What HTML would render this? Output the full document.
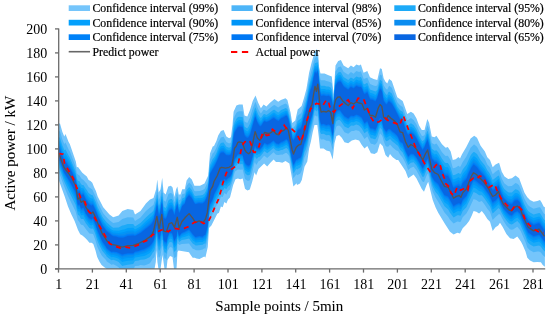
<!DOCTYPE html>
<html><head><meta charset="utf-8"><style>
html,body{margin:0;padding:0;background:#fff;}
svg{display:block;}
text{font-family:"Liberation Serif","Times New Roman",serif;fill:#000;stroke:#000;stroke-width:0.2px;}
.al{stroke-width:0.05px;}
.tk text{stroke-width:0px;}
</style></head><body>
<svg width="550" height="316" viewBox="0 0 550 316">
<defs><clipPath id="pa"><rect x="58" y="20" width="487.5" height="248.9"/></clipPath></defs>
<rect width="550" height="316" fill="#fff"/>
<g clip-path="url(#pa)">
<path fill="#75C5FB" d="M58.5,123.6 60,123.6 62.4,132 64.3,136.5 65.5,134 68.6,142 69.8,144 75.9,161.8 76.8,167.3 78,167 82.3,172.7 86.8,176.4 88.6,180 90.5,181 92.3,182.7 94.1,187.3 95.9,191 97.7,196.4 103.2,207.3 109.5,214.5 113.2,217.3 118.6,215.5 122.3,210.9 127.7,209.1 133.2,210 135,214.5 140.5,210.9 145.9,203.6 150,199.6 153.5,197.9 156.1,189.2 157.3,179.6 158.7,192.6 160.5,189.2 162.2,177.8 163.6,192.6 165.7,194.4 168.3,186.6 170.9,185.7 172.6,187.4 174.4,197 176.1,189.2 177.4,186.6 178.7,194.4 180.5,194.4 182.2,189.2 184.8,189.2 186.6,180.5 189.2,177 191.8,179.6 194.4,185.7 200,185.7 204.5,183.5 208.2,175.5 210,153.6 212.7,146.4 214,146 216.4,140.9 218.2,135.5 220.9,130.9 223.6,130 226.4,136.4 229.1,138.2 230.9,137.3 232.5,125 233.6,111.8 236.4,105.5 239.1,104.5 242.7,104.5 244.5,115.5 247.3,116.4 250,110 252.7,100.9 255.5,95.5 258.2,102.7 260.9,108.2 263.6,104.5 266.4,106.4 270,102.7 274.5,99.1 278.2,101.8 280.9,100 285.5,98.2 287.4,100 290.6,112.7 292.2,123 295.3,120.6 297.7,109.5 301.6,106 304,98 306.4,89.1 309.1,72.7 311.8,61.8 314.5,52.7 316.9,49.1 318.2,54.5 319.1,67.3 320.5,73.6 324.5,73.6 329.1,75.5 331.8,76.4 333.6,94.5 335.5,65.5 338.2,60.9 340.9,60 343.6,65.5 348.2,68.2 350.9,65.5 353.6,67.3 356.4,64.5 359.1,65.5 360.9,64.5 363.6,72.7 367.3,70.9 370,77.3 373.6,79.1 377.3,80 380,68.2 381.8,69.1 383.6,78.2 385.5,81.8 387.3,83.6 389.1,79.1 391.8,80.9 397.3,97.3 402.7,100.9 407.3,114 410.9,111.8 413.6,113.6 416.4,118.2 419.1,125.5 421.8,130 424.5,130 427.3,119.1 429.1,122.7 431.8,136.4 434.5,137.3 436.4,135.7 442,144.2 445.7,147.8 447.8,147.1 450.7,151.4 452.8,160 455.7,159.2 458.5,157 460,158.5 462,154.2 466.3,147.1 470.6,138.5 474.2,135.7 477,137.8 480.6,145.7 484.9,151.4 487.3,157.3 490,160 492.7,167.3 495.5,164.5 499.1,162.7 501.8,171.8 504.5,176.4 508.2,179.1 511.8,178.2 515.5,175.5 519.1,178.2 524.5,192.7 527.3,197.3 530,200 533.6,201.8 537.3,200.9 540,200 541.8,202.7 543.6,206.4 544.9,207.3 544.9,266.8 542.7,265 540.9,262.3 537.3,261.9 533.6,262.3 530,260.5 527.3,257.7 525.5,251.4 522.7,245 520.9,241.5 517.3,236.5 513.6,239 510,238.2 506.4,234 502.7,227 500,222.7 498.2,225.5 495.5,227.3 492.7,230.9 490,221.8 487.3,219.1 484.5,214.5 481.8,210.9 479.1,213.6 476.4,211.8 473.6,210.9 471.8,215.5 469.1,220.9 466.4,224.5 462.7,228.2 460,233.6 457.3,232.7 453.6,234.5 450,231.8 445,224 438.2,212.7 435.5,207.3 432.7,200 428.2,181.8 426.4,185.5 424,191.8 421.8,189.1 416.4,178.2 413.6,174.5 408.2,178.2 405.5,170.9 398.2,160 396.4,160 392.7,157.3 390,154.1 388.2,157.7 385.5,155 382.7,145.9 380,143.2 377.3,152.3 374.5,154.1 370.9,153.2 367.3,145.9 364.5,148.6 361.8,145 359.1,140.5 355.5,139.5 351.8,140.5 348.2,143.2 344.5,142.3 341.8,137.7 339.1,135 336.4,135.9 334.5,143.2 332.7,159.5 330,151.4 326.4,150.5 323.6,148.6 320,148.6 318.7,135.9 317.3,125 314.5,125 312.7,132.3 310.9,141.4 309.1,148.6 307.3,161.4 304.5,166.8 301.8,180 300,183.5 297,185 296.6,183.3 293.4,186.5 289.4,163.5 285.5,161.1 282.3,162.7 279.1,161.9 276,161.9 273.6,159.5 270.4,162.7 267.2,166.6 264.1,163.5 258.5,169 256.1,175.4 254.6,172.2 252.2,181.7 249.8,189.6 247.4,190.4 245,188.8 242.7,178.5 240.3,179.3 237.9,178.5 235.5,179.3 233.2,184.9 230,197.5 228,199.5 226.4,203.6 224.4,201.9 222.7,207.3 220.9,206.6 219,212.7 217.3,213.8 211.4,225.6 209,228 207.8,247 205.4,257.6 204.3,256.5 199.5,258.9 196.4,258.6 194.8,257.7 192.7,257.7 190,254.1 189,252.3 178.5,250.5 177.5,252 176.5,268.9 174,268.9 172.5,257 170,256 167.5,260 166.5,268.9 164.5,268.9 162.5,255 160.5,268.9 158.5,268.9 157.4,262 156.6,250 155.8,262 154.5,268.9 106.5,268.9 106,268.3 105,267.7 101.6,264.9 99.4,261.6 97.2,257.1 95.5,250.5 93.3,243.9 91.6,242.8 89.4,242.8 87.2,240 85,237.8 82.4,235.5 80.2,234.3 78,229.9 74.6,221 71.3,214.3 68,206.6 64.7,196.6 59.1,181 58.5,178Z"/>
<path fill="#4DB5F8" d="M58.5,130.8 60,131.5 62.4,139.4 64.3,143.9 65.5,142.4 68.6,149.4 69.8,151.3 75.5,166.3 75.9,167.8 76.8,173.2 77.9,174.5 79.5,175.6 81.1,178.3 82.3,179.3 83.4,179.9 85.8,182.8 86.8,183.8 88.6,187.1 92.3,189.4 95.9,197.1 97.7,202.3 102.4,211.7 103.2,213.2 106.8,217.5 109.5,220.2 113.2,223 118.6,222.1 122.3,218.9 127.7,217.2 133.2,217.6 135,221 140.5,217.5 145.9,211.1 150,207.4 152,206.1 153.5,204.8 156.1,195.4 157.3,187.6 158.7,199.5 159.1,199.4 160.5,195.7 161.8,187.3 162.2,185.9 163.6,200.3 165.7,201.8 168.3,194.3 169.1,193.6 170.9,192.9 171.8,193.4 172.6,194.3 174.4,202.5 176.1,194.9 177.3,192.1 178.7,199.7 179.1,200.1 180.5,199.4 182.2,194.3 184.8,193.6 186.6,185.9 189.2,182.5 191.8,185.2 194.4,191 195.5,191.2 200,191 202.7,190.1 204.5,189 207.3,183 208.2,180.3 210,159.8 212.7,153.3 214,152.3 216.4,147.4 218.2,142.3 220.9,137.5 223.6,136.8 226.4,142.1 229.1,143.4 230.9,142.5 232.5,131.6 233.6,119.5 234.5,116.6 236.4,112.7 237.7,111.7 239.2,111.2 242.4,111.3 242.7,111.5 244.5,121.4 247.3,122.9 250,117.5 252.7,108.5 255.1,102.5 255.5,102.1 258.2,109.1 259.8,112 260.9,113.6 263.6,109.8 264.6,110 266.4,111.1 273.2,105.6 274.5,104.9 278.2,107.6 281.1,105.5 285.5,103.6 286.6,104.2 287.4,105.1 290.6,117.8 292.2,127.7 293.5,127.6 295.3,125.6 297.7,115.8 300.9,113.2 301.6,112.2 306.4,95.1 309.1,79.5 314.5,59.1 315,57.9 316.4,57.1 316.9,56 317.8,58.3 318.2,60.3 319.1,72.4 320.5,79.7 321.1,80.3 324.5,80.2 326.4,80.9 328.5,81.4 330.6,82.3 331.8,83.6 332.9,93.7 333.6,97.9 335.5,71.6 338.2,67.2 340,66.7 340.9,66.6 343.6,71.8 348.2,74.7 350.9,72 353.6,73.7 356.4,71 359.1,72 360.9,71.3 363.6,78.8 364.5,78.8 367.3,77.4 370,83.9 373.6,85.5 375.5,86.1 377.3,85.4 380,74.5 381.8,75.6 383.6,85 385.5,88.3 386.4,89.2 387.3,89.6 389.1,85.8 391.8,87.8 397.3,102.3 400,105.2 402.7,106.9 405.5,115.3 407.3,120 408.2,119.9 410.9,118.1 413.6,119.9 416.4,124.3 419.1,131 421.8,135.7 422.7,136 424.5,135.2 427.3,125.5 427.6,125.8 429.1,129.6 431.8,143.1 434.5,144.6 436.4,143.6 438.2,146 442,152.2 444.5,155.1 445.7,156.1 447.8,155.8 450.7,160.3 452.8,168 453.6,168.2 455.7,167.5 458.5,165.7 460,167 460.9,165.8 462.7,162 466.4,156.6 470.6,147.8 473.6,144.8 474.2,144.5 477,146.7 480.6,153.6 484.9,159.1 487.3,164.4 490,167.6 492.7,174.3 495.5,171.8 498.5,169.8 499.1,170.1 501.8,178.8 504.5,183.4 508.2,186.3 511.8,186 515.5,183 517.3,183.8 519.1,185.2 524.5,199.1 527.3,204.1 528.2,205.2 530,206.8 533.6,208.8 539.1,207.2 540,207.3 541.8,209.9 543.6,213.3 544.9,214.3 544.9,257.1 542.7,255.1 540.9,252.5 539.1,251.6 537.3,251.6 533.6,252.3 530,250.3 528.2,248.6 527.3,247.4 525.5,242 520.9,231.6 520,230 517.3,226.8 514.5,228.5 513.6,229.3 511.8,229.8 510,229.3 506.4,225.5 503.6,221 500,214.3 498.5,214.3 498.2,214.8 495.5,217 492.7,219.9 490,212.1 487.3,208.8 484.5,204.4 481.8,201 479.1,202 476.4,200 473.6,198.9 469.1,208.7 466.4,213.6 462.7,217.3 460.9,221.3 460,222.3 459.1,221.8 457.3,221.6 453.6,223.6 450,219.7 448.2,216.7 444.5,212.4 438.2,201.7 435.5,197.5 432.7,191.6 431.8,188.6 428.2,173.6 427.6,173.7 426.4,176.1 424,182.1 422.7,181.8 421.8,180.6 416.4,170.2 413.6,166.7 410.9,167.8 408.2,169.9 405.5,163.1 402.7,157.7 400,154.6 398.2,151.3 397.3,150.7 396.4,150.4 392.7,147.5 390,144.6 388.2,146.8 386.4,146.6 385.5,145.7 383.6,140.7 382.7,137.2 381.8,135.2 380,133.4 377.3,141.9 375.5,144.3 374.5,144.7 372.7,144 370.9,143.7 370,142.3 367.3,136.4 364.5,138.9 361.8,134.6 359.1,131 356.4,130.2 355.5,130.2 353.6,130.9 351.8,131.1 350.9,131.5 348.2,133.7 344.5,132.3 341.8,128.1 340,126 339.1,125.4 337.7,125.8 336.4,126.5 334.5,133.4 332.7,150.2 330.6,142.8 330,141.4 328.5,140.8 326.4,140.8 323.6,139.2 321.1,139.4 320,137.9 318.7,124.9 317.8,117.6 317.3,115.4 316.4,116.5 315,115.3 314.5,116 312.1,127.5 309.1,139.4 307.3,150.8 305.6,155.3 304.5,157.6 301.8,170.2 300.9,172.3 300,173.7 297,175.3 296.6,174.1 293.4,178.2 289.4,156.5 288.2,154.5 286.6,153.1 285.5,152.9 282.3,154.7 281.1,154.6 278.7,155 276,154.7 273.6,152.3 273.2,152.5 267.2,158.1 264.6,155.9 264.1,155.8 259.8,160.7 258.5,161.3 257.4,163.2 256.1,164.9 255.1,162.6 254.6,162.5 252.2,172.4 250.3,178.8 249.8,180.2 248.7,180.7 247.4,180.8 245,178.9 242.7,169.5 242.4,169.4 240.3,169.8 239.2,169.4 237.7,169.4 236.1,170.8 235.5,171.1 234.5,173.1 231.8,184 230,189.6 228,191.3 226.4,194.4 224.4,193.1 222.7,197 220.9,196.6 219,201.9 217.3,203.9 214,210.5 212.7,213.8 211.4,216.4 210,218.2 209,221 207.8,237.9 205.4,248.8 204.3,248.3 202.7,249.4 199.5,250.3 196.4,250.3 195.5,250 194.8,249.5 192.7,248.7 190,245.1 189,243.5 181.8,244.1 179.1,245.1 178.5,244.1 177.5,243.6 176.5,256.5 174.5,258.1 174,257.8 172.5,248.2 171.8,247.6 170,247.1 169.1,248.2 167.5,251.3 166.4,260.4 165.7,258.6 164.5,258.6 163.6,253.9 162.5,245.5 161.8,247.2 160.5,255.6 159.1,257.7 158.5,256.7 157.4,249.9 156.6,240.8 155.8,250.3 154.5,256.9 153.6,258 152.5,258.7 152,260.1 150,262.9 149.5,263.4 145.9,265 144.1,265.4 140.5,265 138.6,265.8 135,266 134,268.3 133.5,268.9 120,268.9 119.5,268.6 118.6,267.3 116.8,266 113.2,264.3 111.4,264.8 109.5,263.3 106.8,261.6 106,260 102.4,256.3 101.6,255.3 99.4,251.3 97.2,246.5 95.5,240.4 93.3,234.4 92.9,234 89.4,233.4 85.8,228.9 83.4,225.4 82.4,225 81.1,224.8 80.2,223.6 79.5,222 77.9,220.2 75.5,211.3 68,195.9 63.9,185.7 59.1,172.5 58.5,170.2Z"/>
<path fill="#1CAAF8" d="M58.5,136.7 59.2,137.2 60,138.1 62.4,145.6 64.3,150.1 65.5,149.4 68.6,155.6 69.8,157.4 75.5,171 76.8,178.1 77.9,180.7 79.5,181.2 81.1,184.3 82.3,184.9 83.4,185.1 85.8,188.8 86.8,189.9 88.6,193.1 91.4,195 92.3,195.1 92.9,195.7 95.9,202.1 97.7,207.2 102.4,216.8 103.2,218.1 106.8,222.5 111.4,226.6 113.2,227.7 118.6,227.5 122.3,225.6 124,225.3 127.7,223.9 133.2,224 135,226.4 140.5,223.1 145.9,217.4 150,213.8 152,212.3 153.5,210.5 156.1,200.6 156.9,195.4 157.3,194.3 158.7,205.3 159.1,205.7 160.5,201.2 161.8,193 162.2,192.7 163.6,206.7 165.7,207.9 166.4,206.6 168.3,200.8 169.1,199.7 170.9,198.9 171.8,199.1 172.6,200 174.4,207 176.1,199.7 177.3,196.5 178.7,204.1 179.1,204.8 180.5,203.5 182.2,198.5 184.8,197.2 186.6,190.3 189.2,187.1 191.8,189.9 194.4,195.4 195.5,195.9 199.1,195.4 200,195.5 202.7,194.9 204.5,193.6 205.5,191.8 207.3,187.6 208.2,184.3 210,164.9 212.7,159.1 214,157.5 215,155.7 216.4,152.9 218.2,147.9 220,144.2 220.9,143 221.8,142.7 223.6,142.4 226.4,146.8 229.1,147.7 230.9,146.7 232.5,137.1 233.6,125.9 234.5,122.4 236.4,118.7 237.7,117.3 239.2,116.7 242.4,117 242.7,117.3 244.5,126.4 246.4,127.9 247.3,128.3 248.7,126.3 250.3,123.1 252.7,114.8 255.1,107.7 255.5,107.6 258.2,114.4 259.8,117.1 260.9,118.1 263.6,114.2 264.6,114 266.4,115 268,114 273.2,110.1 274.5,109.8 276.3,111.2 278.2,112.4 278.7,112.2 281.1,110.1 284.2,108.8 285.5,108 286.6,108.4 287.4,109.3 288.2,111.8 290.6,122.1 292.2,131.6 293.5,132.2 295.3,129.8 297.7,121.1 300.9,118.6 301.6,117.4 306.4,100.1 309.1,85.2 312.1,74.6 314.5,64.4 315,62.9 316.4,63.1 316.9,61.8 317.8,62.8 318.2,65.1 319.1,76.6 320.5,84.8 321.1,85.8 324.5,85.7 326.4,86.4 328.5,86.5 330.6,87.5 331.8,89.7 332.9,99 333.6,100.7 335.5,76.6 338.2,72.4 340,71.9 340.9,72.2 343.6,77.1 348.2,80.1 350.9,77.4 353.6,79 356.4,76.4 359.1,77.5 360.9,76.9 361.8,78.8 363.6,83.9 364.5,84.3 367.3,82.8 370,89.5 375.5,91.6 377.3,90 380,79.8 381.8,81.1 383.6,90.7 385.5,93.8 386.4,94.7 387.3,94.7 388.2,92.6 389.1,91.4 391.8,93.5 397.3,106.5 400,110.3 402.7,111.8 405.5,120.4 407.3,125 408.2,125.3 410.9,123.3 413.6,125.1 416.4,129.3 419.1,135.7 421.8,140.4 422.7,141 424.5,139.5 427.3,130.8 427.6,131 429.1,135.4 431.8,148.7 434.5,150.7 436.4,150.2 438.2,152.2 442,158.8 444.5,162.2 445.7,163.1 447.8,163 448.2,163.4 450.7,167.7 452.8,174.7 453.6,175.3 455.7,174.5 458.5,172.9 459.1,173.2 460,174.1 460.9,173.4 462.7,169.5 466.4,164.7 470.6,155.5 471.8,153.8 473.6,151.9 474.2,151.9 477,154.1 480.6,160.3 484.9,165.5 487.3,170.3 489.1,172.5 490,173.9 492.7,180.1 498.5,175.5 499.1,176.2 501.8,184.6 503.6,187.9 504.5,189.2 508.2,192.3 509.1,192.6 511.8,192.6 514.5,189.9 515.5,189.3 517.3,189.7 519.1,191.1 520,192.8 524.5,204.5 527.3,209.7 528.2,211 530,212.5 533.6,214.6 539.1,213 540,213.3 541.8,215.9 543.6,219.1 544.5,219.9 544.9,220.1 544.9,251.5 544.5,251.3 542.7,249.3 540.9,246.8 539.1,245.5 537.3,245.7 533.6,246.5 530,244.4 528.2,242.8 527.3,241.5 525.5,236.5 520,224.1 517.3,221.1 514.5,222.7 513.6,223.6 511.8,224.6 510,224.1 509.1,223.5 506.4,220.5 503.6,216.5 500.9,211.5 500,209.4 498.5,208.1 492.7,213.6 490,206.6 484.5,198.6 481.8,195.3 479.1,195.3 476.4,193.2 473.6,191.9 466.4,207.2 462.7,211 460.9,215.2 460,215.7 459.1,215.2 457.3,215.3 453.6,217.4 450,212.7 448.2,209.6 444.5,206.2 438.2,195.3 435.5,191.9 434.5,190.3 432.7,186.7 431.8,184.1 428.2,168.9 427.6,168.4 426,171.6 424,176.5 422.7,176.9 421.8,175.6 416.4,165.6 413.6,162.2 410.9,162.7 408.2,165.1 402.7,152.5 400,149.8 398.2,146.2 397.3,145.3 396.4,144.8 394.5,143.1 392.7,141.8 390,139.1 388.2,140.6 386.4,141.2 385.5,140.3 383.6,136 382.7,132.2 381.8,129.6 380,127.8 377.3,135.9 375.5,139.1 374.5,139.2 372.7,138.5 370.9,138.2 370,137.1 367.3,130.9 364.5,133.2 361.8,128.5 359.1,125.6 356.4,124.6 355.5,124.8 353.6,125.7 351.8,125.6 350.9,125.8 348.2,128.2 344.5,126.5 341.8,122.5 340,120.3 339.1,119.8 337.7,120.2 336.4,121.1 335.6,123.4 334.5,127.7 332.9,144.1 332.7,144.8 330.6,136.8 330,135.5 328.5,134.9 326.4,135.2 323.6,133.7 321.1,134 320,131.7 317.8,111.1 317.3,109.8 316.4,111.6 315,109.6 314.5,110.8 312.1,122.9 309.1,134 307.3,144.6 305.6,149.9 304.5,152.3 301.8,164.5 300.9,166.8 300,168 298.5,168.6 297,169.7 296.6,168.8 296.1,169.3 293.5,173.5 292.2,167.6 289.4,152.5 288.2,149.7 286.6,148.1 285.5,148.2 284.2,149.1 282.3,150 281.1,150.1 278.7,151 276,150.6 273.6,148.2 273.2,148.3 270,151.1 267.2,153.2 264.6,151.3 264.1,151.4 262.2,154 259.8,156.7 258.5,156.9 257.4,158.2 256.1,158.8 255.1,156.5 254.6,156.8 252.7,165.1 250.3,173.5 249.8,174.7 248.7,175.3 247.4,175.2 246.4,174.6 245,173.1 242.7,164.4 242.4,164.1 240.3,164.3 239.2,163.9 237.7,164 236.1,165.9 235.5,166.3 234.5,168.1 231.8,180.3 230,185 228,186.5 226.4,189.1 224.4,188.1 222.7,191.1 221.8,190.8 220.9,190.8 220,192.7 219,195.7 217.3,198.2 215,202.6 214,204.8 212.7,208.5 211.4,211.1 210,213.1 209,217 207.8,232.7 207.3,235.7 205.4,243.7 204.3,243.6 202.7,244.8 196.4,245.5 195.5,245.4 194.8,244.7 192.7,243.5 189,238.4 185,239.5 181.8,240.1 179.1,241.9 178.5,240.4 177.5,238.7 176.5,249.4 174.5,251.8 174,251.4 172.5,243.1 171.8,242.3 170,241.9 169.1,242.8 167.5,246.3 166.4,254.1 165.7,252.6 164.5,252.5 163.6,248.8 162.5,240 161.8,239.8 160.5,247.9 159.1,251.1 158.5,249.6 157.4,242.9 156.6,235.4 155.8,243.6 154.5,249.9 153.6,251.7 152.5,252.8 152,254.1 150,256.7 149.5,257.2 145.9,259 144.1,259.6 140.5,259.7 138.6,260.5 135,260.9 133.2,264.1 127.7,264.8 124,265.5 122.3,266.1 118.6,262.1 116.8,261.1 113.2,259.8 111.4,260.2 106.8,256.8 106,255.3 102.4,251 99.4,245.3 97.2,240.3 95.3,233.9 93.3,228.9 92.9,228.4 91.4,228.7 89.4,228 85.8,223.3 83.4,219 81.1,219 80.2,217.4 79.5,215.7 77.9,214.7 75.5,204.4 68,189.7 63.9,180.7 58.5,165.7Z"/>
<path fill="#03A0FC" d="M58.5,140.3 59.2,140.9 60,142.1 62.4,149.3 63.9,153.1 64.3,153.8 65.5,153.6 69.8,161.1 71.8,165.3 75.5,173.9 76.8,181.1 77.9,184.4 79.5,184.5 81.1,187.9 82.3,188.2 83.4,188.2 85.8,192.5 86.8,193.6 88.6,196.6 89,197 91.4,198.6 92.3,198.4 92.9,198.8 95.9,205.2 97.7,210.1 102.4,219.8 103.2,221.1 106.8,225.5 111.4,229.4 113.2,230.5 118.6,230.8 122.3,229.7 124,229.4 127.7,228 133.2,227.8 135,229.6 140.5,226.4 145.9,221.2 152,216.1 153.5,214 156.1,203.8 156.9,198.9 157.3,198.3 158.7,208.8 159.1,209.5 160.5,204.4 161.8,196.4 162.2,196.7 163.6,210.5 165.7,211.6 166.4,210.5 168.3,204.7 169.1,203.3 170.9,202.4 171.8,202.6 172.6,203.4 174.4,209.8 176.1,202.6 177.3,199.1 178.7,206.8 179.1,207.6 180.5,206 182.2,201.1 184.8,199.4 186.6,193 189.2,189.9 191.8,192.7 194.4,198 195.5,198.6 199.1,198 200,198.2 202.7,197.8 204.5,196.4 205.5,194.7 207.3,190.4 208.2,186.7 210,168 212.7,162.6 215,158.9 216.4,156.1 218.2,151.3 220,147.4 220.9,146.3 221.8,146 223.6,145.8 226.4,149.6 229.1,150.4 230.9,149.3 231.8,145 232.5,140.4 233.6,129.7 234.5,125.8 236.4,122.3 237.7,120.7 239.2,120.1 242.4,120.4 242.7,120.7 244.5,129.4 246.4,131.1 247.3,131.5 248.7,130 250.3,126.9 255.1,110.9 255.5,110.9 257.4,116 258.2,117.6 259.8,120.1 260.9,120.9 263.6,116.8 264.6,116.4 266.4,117.3 268,116.6 270,115.2 273.2,112.8 274.5,112.7 276.3,114.2 278.2,115.2 278.7,115.1 281.1,112.9 284.2,111.5 285.5,110.7 286.6,110.9 287.4,111.8 288.2,114.2 290.6,124.6 292.2,134 293.5,135 295.3,132.4 297.7,124.3 298.5,123.5 300.9,121.9 301.6,120.5 304,111.6 305.6,106.5 306.4,103.2 309.1,88.7 310.3,84.1 312.1,78.4 314.5,67.5 315,65.9 316.4,66.7 316.9,65.2 317.8,65.6 318.2,68 319.1,79.1 319.9,85 320.5,87.9 321.1,89.2 323.5,88.9 324.5,89 326.4,89.7 328.5,89.6 330.6,90.6 331.8,93.3 332.9,102.1 333.6,102.4 334.2,93.6 335.5,79.6 337.7,76.1 338.2,75.6 340,75.1 340.9,75.5 343.6,80.2 348.2,83.3 350.9,80.6 353.6,82.2 356.4,79.6 359.1,80.7 360.9,80.3 361.8,82 363.6,87 364.5,87.6 367.3,86 370,92.8 372.7,93.6 375.5,94.9 377.3,92.7 380,82.9 381.8,84.3 383.6,94.1 385.5,97.1 386.4,98 387.3,97.7 388.2,95.6 389.1,94.7 391.8,96.9 397.3,109 400,113.3 402.7,114.8 405.5,123.5 407.3,128 408.2,128.5 410.9,126.5 413.6,128.3 416.4,132.3 419.1,138.4 421.8,143.2 422.7,144 424.5,142.1 427.3,133.9 427.6,134 429.1,138.9 431.8,152 434.5,154.4 436.4,154.1 438.2,156 442,162.8 444.5,166.4 445.7,167.2 447.8,167.3 448.2,167.7 450.7,172.2 452.8,178.7 453.6,179.5 455.7,178.7 458.5,177.2 459.1,177.4 460,178.4 460.9,178 462.7,174.1 466.4,169.5 470.6,160.1 471.8,158.3 473.6,156.2 474.2,156.3 477,158.5 480.6,164.2 484.9,169.4 487.3,173.8 489.1,176.1 490,177.7 492.7,183.7 495.5,181.6 498.5,179 499.1,179.9 500.9,185.8 501.8,188.1 503.6,191.5 504.5,192.6 508.2,195.9 509.1,196.3 511.8,196.5 514.5,193.6 515.5,193 517.3,193.2 519.1,194.6 520,196.1 524.5,207.7 528.2,214.5 530,216 533.6,218.1 539.1,216.4 540,217 541.8,219.5 543.6,222.5 544.5,223.5 544.9,223.6 544.9,247.9 544.5,247.8 542.7,245.7 540.9,243.2 539.1,241.6 533.6,242.8 530,240.6 528.2,239.2 527.3,237.7 525.5,233 520,220.3 517.3,217.5 514.5,219.1 513.6,220 511.8,221.4 510,220.9 509.1,220.3 506.4,217.4 503.6,213.7 500.9,208.6 500,206.3 498.5,204.2 495.5,207.2 492.7,209.5 490,203 489.1,201.4 483.6,193.7 481.8,191.7 479.1,191.1 476.4,188.8 473.6,187.5 471.8,191.1 466.4,203.2 462.7,207 460.9,211.3 460,211.6 459.1,211 457.3,211.2 453.6,213.4 450,208.2 448.2,205 444.5,202.2 438.2,191.3 435.5,188.3 434,186 432.7,183.6 431.8,181.3 428.2,165.9 427.6,164.9 425.5,169.2 424,172.9 422.7,173.8 421.8,172.5 416.4,162.6 413.6,159.4 410.9,159.6 408.2,162 402.7,149.1 400,146.8 398.2,143 397.3,141.8 396.4,141.3 394.5,139.4 392.7,138.2 390,135.6 386.4,137.7 385.5,136.9 383.6,133.1 382.7,129 381.8,126 380,124.2 378.2,129.1 377.3,132.1 375.5,135.7 374.5,135.7 372.7,134.9 370.9,134.7 370,133.7 367.3,127.4 364.5,129.6 361.8,124.7 359.1,122.1 356.4,121.1 355.5,121.3 353.6,122.3 351.8,122.1 350.9,122.3 348.2,124.7 344.5,122.8 340,116.7 339.1,116.3 337.7,116.6 336.4,117.7 335.6,119.8 334.5,124.1 332.9,140.9 332.7,141.3 330.6,133 330,131.8 328.5,131.2 326.4,131.6 323.6,130.3 321.1,130.6 320,127.7 317.8,106.9 317.3,106.2 316.4,108.5 315,106 314.5,107.4 312.1,120 309.1,130.6 307.3,140.7 305.6,146.5 304.5,148.9 301.8,160.8 300.9,163.3 300,164.4 298.5,165 297,166.1 296.6,165.4 296.1,165.9 293.5,170.5 292.2,164.9 289.4,150 288.2,146.7 286.6,145 285.5,145.2 284.2,146.1 282.3,147.1 281.1,147.2 278.7,148.5 276,147.9 273.6,145.5 273.2,145.5 270,148.3 267.2,150.1 264.6,148.3 264.1,148.6 262.2,151.4 259.8,154.1 258.5,154.1 257.4,155 256.1,155 255.1,152.5 254.6,153.2 252.7,161.7 250.3,170.1 249.8,171.2 248.7,171.9 247.4,171.7 246.4,171 245,169.5 242.7,161.1 242.4,160.7 240.3,160.7 239.2,160.4 237.7,160.6 236.1,162.8 235.5,163.2 234.5,165 231.8,177.9 230,182.1 228,183.5 226.4,185.7 224.4,184.9 222.7,187.3 221.8,187 220.9,187.1 220,188.7 219,191.7 217.3,194.5 214,201.1 212.7,205.1 211.4,207.8 210,209.9 209,214.4 207.8,229.3 207.3,232.5 205.4,240.5 204.3,240.6 202.7,241.9 199.1,242 196.4,242.5 195.5,242.4 194.8,241.7 192.7,240.2 189,235.2 185,236.7 181.8,237.5 179.1,239.9 177.5,235.6 176.5,244.8 174.5,247.8 174,247.3 172.5,239.9 171.8,239 170,238.6 169.1,239.4 167.5,243.1 166.4,250 165.7,248.8 164.5,248.6 163.6,245.5 162.5,236.5 161.8,235.2 160.5,243 159.1,247 158.5,245.1 157.4,238.4 156.9,233.5 156.6,232 155.8,239.3 154.5,245.5 153.6,247.7 152.5,249.1 152,250.3 150,252.8 149.5,253.3 145.9,255.2 144.1,255.9 140.5,256.4 138.6,257.1 135,257.6 133.2,260.3 127.7,260.7 124,261.4 122.3,262.1 118.6,258.8 116.8,257.9 113.2,256.9 111.4,257.2 106.8,253.7 106,252.2 102.4,247.6 99.4,241.5 97.2,236.4 95.3,230.2 93.3,225.4 92.9,224.8 91.4,225.4 89.4,224.5 85.8,219.8 83.4,215 81.1,215.3 79.5,211.6 77.9,211.2 75.5,200 63.9,177.6 58.5,162.8Z"/>
<path fill="#0095F8" d="M58.5,142.7 59.2,143.3 60,144.7 62.4,151.8 63.9,155.6 64.3,156.3 65.5,156.4 69.8,163.5 75.5,175.8 76.8,183.1 77.9,186.9 79.5,186.7 81.1,190.4 83.4,190.3 85.8,194.9 86.8,196 89,199.4 91.4,201 92.3,200.7 92.9,200.9 95.9,207.2 97.7,212.1 102.4,221.8 106.8,227.5 111.4,231.4 113.2,232.4 116.8,232.7 118.6,233 124,232.1 127.7,230.7 133.2,230.4 135,231.8 140.5,228.6 145.9,223.7 152,218.6 153.6,216 156.1,205.8 156.9,201.2 157.3,200.9 158.7,211.1 159.1,212 160.5,206.6 161.8,198.7 162.2,199.4 163.6,213.1 165.7,214.1 166.4,213.1 168.3,207.2 169.1,205.8 170.9,204.8 171.8,204.9 172.6,205.7 174.4,211.6 176.1,204.5 177.3,200.9 178.7,208.5 179.1,209.5 180.5,207.7 182.2,202.8 184.8,200.8 186.6,194.8 189.1,191.7 191.8,194.6 194.4,199.8 195.5,200.5 199.1,199.8 200,200 202.7,199.7 204.5,198.3 205.5,196.6 207.3,192.2 208.2,188.2 210,170 212.7,164.9 215,161.1 216.4,158.3 218.2,153.5 220,149.6 220.9,148.5 221.8,148.2 223.6,148.1 226.4,151.5 229.1,152.1 230.9,151 231.8,147.1 232.5,142.6 233.6,132.3 234.5,128.1 236.4,124.7 237.7,122.9 239.2,122.3 242.4,122.6 242.7,123.1 244.5,131.4 244.8,131.8 246.4,133.2 247.3,133.7 248.7,132.4 250.3,129.4 255.1,113 255.5,113.1 257.4,118.2 258.2,119.7 259.8,122.2 260.9,122.7 262.2,120.9 263.6,118.6 264.6,118 266.4,118.9 268,118.3 270,117 273.2,114.6 274.5,114.6 276.3,116.1 278.2,117.2 278.7,117.1 281.1,114.7 284.2,113.4 285.5,112.5 286.6,112.5 287.4,113.5 288.2,115.7 290.6,126.3 292.2,135.6 293.5,136.9 295.3,134 297.7,126.4 298.5,125.6 300.9,124.1 301.6,122.6 304,113.6 305.6,108.6 309.1,90.9 310.3,86.4 312.1,80.9 313.5,74.1 315,67.9 316.4,69.1 316.9,67.5 317.8,67.4 318.2,70 319.1,80.8 319.9,87 320.5,89.9 321.1,91.4 323.5,91.1 324.5,91.2 326.4,91.8 328.5,91.7 330.6,92.7 331.8,95.7 332.9,104.2 333.6,103.5 334.2,94.7 335.5,81.7 337.7,78.2 338.2,77.7 340,77.2 340.9,77.7 343.6,82.3 348.2,85.5 350.9,82.8 353.6,84.3 356.4,81.8 359.1,82.9 360.9,82.6 361.8,84.1 363.6,89 364.5,89.8 367.3,88.2 370,95 372.7,95.7 375.5,97.1 377.3,94.5 380,85 381.8,86.5 383.6,96.4 385.5,99.2 386.4,100.2 387.3,99.7 388.2,97.6 389.1,97 391.8,99.2 397.3,110.7 400,115.3 402.7,116.8 405.5,125.6 407.3,130 408.2,130.7 410.9,128.6 413.6,130.4 416.4,134.3 419.1,140.3 421.8,145.1 422.7,146 424.5,143.9 427.3,136.1 427.6,136.1 429.1,141.2 431.8,154.3 434.5,156.8 436.4,156.7 438.2,158.5 442,165.5 444.5,169.3 445.7,170 447.8,170.2 448.2,170.5 450.7,175.2 452.8,181.4 453.6,182.3 458.5,180.1 459.1,180.3 460,181.2 460.9,181.1 462.7,177.1 466.4,172.8 469.1,166.4 470.6,163.2 471.8,161.2 473.6,159.1 474.2,159.2 477,161.5 480.6,166.9 483.6,170.2 484.9,172 487.3,176.2 489.1,178.6 492.7,186 495.5,184 498.5,181.2 499.1,182.3 500.9,188.2 501.8,190.4 503.6,193.8 504.5,195 508.2,198.3 509.1,198.8 511.8,199.1 514.5,196.1 515.5,195.6 517.3,195.5 519.1,196.9 520,198.3 524.5,209.9 528.2,216.8 530,218.2 533.6,220.4 539.1,218.7 540,219.4 543.6,224.8 544.5,225.8 544.9,225.9 544.9,245.6 544.5,245.5 540.9,240.8 539.1,239.1 533.6,240.4 530,238.2 528.2,236.8 527.3,235.2 520,217.9 517.3,215.2 514.5,216.7 511.8,219.3 510,218.7 509.1,218.2 506.4,215.4 503.6,211.8 500.9,206.7 500,204.3 498.5,201.7 495.5,204.8 492.7,206.9 489.1,199 483.6,191.3 481.8,189.4 479.1,188.3 476.4,186 473.6,184.7 471.8,188.2 466.4,200.6 462.7,204.5 460.9,208.8 460,208.9 459.1,208.3 457.3,208.6 453.6,210.8 450,205.3 448.2,202.1 444.5,199.7 438.2,188.7 434.5,184.7 432.7,181.6 431.8,179.5 428.2,163.9 427.6,162.7 425.5,166.9 424,170.6 422.7,171.8 416.4,160.8 413.6,157.5 410.9,157.5 408.2,160 402.7,147 400,144.9 398.2,141 397.3,139.6 396.4,139 394.5,137.1 392.7,135.9 390,133.3 388.2,134 386.4,135.5 385.5,134.7 383.6,131.1 381.8,123.6 380,121.9 378.2,126.6 377.3,129.7 375.5,133.5 374.5,133.5 372.7,132.6 370.9,132.4 370,131.6 367.3,125.1 364.5,127.3 361.8,122.2 359.1,119.8 356.4,118.8 355.5,119.1 353.6,120.2 351.8,119.9 350.9,120 348.2,122.4 344.5,120.4 340,114.4 339.1,114 337.7,114.3 336.4,115.5 335.6,117.4 334.5,121.8 334.2,123.7 332.9,138.8 332.7,139.1 330.6,130.5 330,129.5 328.5,128.7 326.4,129.3 323.5,128 321.1,128.4 320,125.2 317.8,104.3 317.3,103.9 316.4,106.5 315,103.7 314.5,105.3 312.1,118.2 309.1,128.4 307.3,138.2 305.6,144.3 304.5,146.7 304,148.5 301.8,158.5 300.9,161.1 300,162.1 298.5,162.7 297,163.8 296.6,163.3 296.1,163.8 293.5,168.5 292.2,163.2 289.4,148.3 288.2,144.7 286.6,142.9 285.5,143.2 284.2,144.2 282.3,145.2 281.1,145.3 278.7,146.9 276,146.3 273.6,143.8 273.2,143.8 270,146.5 268,147.8 267.2,148 264.6,146.4 264.1,146.7 262.2,149.7 259.8,152.4 258.5,152.3 257.4,153 256.1,152.5 255.1,150 254.6,150.9 252.7,159.5 250.3,168 249.8,169 248.7,169.7 247.4,169.4 246.4,168.7 245,167.1 242.7,158.9 242.4,158.5 240.3,158.5 239.2,158.2 237.7,158.5 236.1,160.9 235.5,161.3 234.5,162.9 231.8,176.4 230,180.2 228,181.5 226.4,183.6 225.5,183.3 224.4,182.8 222.7,184.9 221.8,184.6 220.9,184.7 220,186.2 219,189.1 214,198.7 212.7,202.9 211.4,205.6 210,207.8 209,212.8 207.8,227.2 207.3,230.5 205.4,238.4 204.3,238.6 202.7,240.1 199.1,240 196.4,240.5 195.5,240.5 192.7,238 189,233.1 185,234.8 181.8,235.9 179.1,238.6 177.5,233.7 176.5,241.9 174.5,245.3 174,244.7 172.5,237.8 171.8,236.8 170,236.5 169.1,237.2 167.5,241 166.4,247.5 165.7,246.3 164.5,246.2 163.6,243.4 162.5,234.2 161.8,232.2 160.5,239.8 159.1,244.3 158.5,242.2 157.4,235.6 156.9,230.9 156.6,229.8 155.8,236.5 154.5,242.7 153.6,245.2 152.5,246.6 152,247.9 149.5,250.8 145.9,252.8 144.1,253.5 140.5,254.2 138.6,255 135,255.5 133.2,257.8 127.7,258.1 124,258.8 122.3,259.5 118.6,256.7 116.8,255.9 113.2,255 111.4,255.3 106.8,251.8 106,250.3 102.4,245.4 101.6,243.9 97.7,235.1 95.3,227.8 92.9,222.5 91.4,223.3 89.4,222.3 89,221.9 85.8,217.5 83.4,212.4 81.1,212.9 79.5,209 77.9,209 75.5,197.2 71.8,189.9 63.9,175.6 58.5,160.9Z"/>
<path fill="#0A8CF0" d="M58.5,144.4 59.2,145.1 60,146.6 63.9,157.4 64.3,158 65.5,158.4 69.8,165.3 71.8,169.1 75.5,177.1 76.8,184.4 77.9,188.7 79.5,188.2 81.1,192 83.4,191.7 85.8,196.6 86.8,197.8 89,201.1 91.4,202.6 92.3,202.3 92.9,202.4 95.3,207.2 97.7,213.4 102.4,223.2 106.8,228.9 111.4,232.7 113.2,233.7 116.8,234.1 118.6,234.5 124,234 127.7,232.5 133.2,232.2 135,233.3 140.5,230.2 145.9,225.5 149.5,222.6 152,220.3 153.6,217.6 156.1,207.3 156.9,202.8 157.3,202.8 158.7,212.7 159.1,213.7 160.5,208.1 161.8,200.3 162.2,201.3 163.6,214.8 165.7,215.8 166.4,214.9 168.3,209 169.1,207.5 170.9,206.5 171.8,206.4 172.6,207.3 174.4,212.9 176.1,205.8 177.3,202.1 178.7,209.8 179.1,210.8 180.5,208.9 182.2,204 184.8,201.8 186.6,196 189.1,193 191.8,195.9 194.4,201 195.5,201.8 199.1,201 200,201.2 202.7,201 204.5,199.5 205.5,197.9 207.3,193.5 208.2,189.4 210,171.4 215,162.6 216.4,159.8 218.2,155.1 220,151.1 220.9,150.1 221.8,149.7 223.6,149.6 226.4,152.8 229.1,153.3 230.9,152.2 231.8,148.6 232.5,144.2 233.6,134.1 234.5,129.7 237.7,124.5 239.2,123.8 242.4,124.2 242.7,124.7 244.5,132.7 244.8,133.2 246.4,134.7 247.3,135.2 248.7,134.1 250.3,131.2 255.1,114.4 255.5,114.6 257.4,119.7 258.2,121.2 259.8,123.6 260.9,123.9 262.2,122.2 263.6,119.8 264.6,119.1 266.4,120 268,119.4 270,118.3 273.2,115.8 274.5,116 276.3,117.5 278.2,118.5 278.7,118.4 281.1,116 284.2,114.7 285.5,113.7 286.6,113.7 287.4,114.7 288.2,116.8 290.6,127.5 292.2,136.7 293.5,138.2 295.3,135.2 296.1,132.4 297.7,127.9 298.5,127.1 300.9,125.6 301.6,124 304,115 305.6,110 309.1,92.5 310.3,88.1 312.1,82.7 313.5,75.7 315,69.3 316.4,70.8 316.9,69.1 317.8,68.7 318.2,71.3 319.1,82 319.9,88.4 320.5,91.4 321.1,93 323.5,92.6 324.5,92.7 326.4,93.4 328.5,93.1 330.6,94.2 331.8,97.4 332.9,105.6 333.6,104.3 334.2,95.6 335.5,83.1 337.7,79.6 338.2,79.1 340,78.7 340.9,79.3 343.6,83.8 345.5,85.3 348.2,87 350.9,84.3 353.6,85.8 356.4,83.3 359.1,84.4 360.9,84.1 361.8,85.6 363.6,90.4 364.5,91.3 367.3,89.7 370,96.6 372.7,97.2 375.5,98.6 377.3,95.8 380,86.5 381.8,88 383.6,98 385.5,100.8 386.4,101.7 387.3,101.1 388.2,99.1 389.1,98.5 391.8,100.8 394.5,105.9 397.3,111.8 400,116.7 402.7,118.2 405.5,127.1 407.3,131.4 408.2,132.2 410.9,130.1 413.6,131.8 416.4,135.7 419.1,141.6 421.8,146.4 422.7,147.4 424.5,145.1 427.3,137.5 427.6,137.5 429.1,142.8 431.8,155.8 434.5,158.5 436.4,158.6 438.2,160.3 442,167.4 444.5,171.2 445.7,172 447.8,172.2 448.2,172.5 450.7,177.3 452.8,183.3 453.6,184.3 458.5,182.1 459.1,182.3 460,183.2 460.9,183.2 462.7,179.2 466.4,175 469.1,168.6 471.8,163.3 473.6,161.1 474.2,161.2 477,163.5 480.6,168.7 483.6,172 484.9,173.8 487.3,177.9 489.1,180.3 492.7,187.6 495.5,185.7 498.5,182.8 499.1,184.1 500.9,189.9 501.8,192.1 503.6,195.5 504.5,196.6 508.2,200 509.1,200.5 511.8,201 514.5,197.9 515.5,197.3 517.3,197.1 519.1,198.6 520,199.8 522.7,207.1 524.5,211.4 528.2,218.5 530,219.8 533.6,222.1 539.1,220.3 540,221.1 543.6,226.4 544.5,227.5 544.9,227.6 544.9,244.1 544.5,244 540.9,239.3 539.1,237.4 533.6,238.8 530,236.6 528.2,235.2 527.3,233.6 520,216.3 517.3,213.7 514.5,215.1 511.8,217.9 510,217.3 509.1,216.9 506.4,214 503.6,210.6 500.9,205.4 500,202.9 498.5,200 495.5,203.2 492.7,205.2 489.1,197.4 483.6,189.8 481.8,187.8 479.1,186.5 476.4,184.2 473.6,182.8 471.8,186.2 466.4,198.9 462.7,202.8 460.9,207.2 460,207.1 459.1,206.4 457.3,206.8 456.4,207.2 453.6,209.1 450,203.4 448.2,200.2 444.5,198 438.2,187 434.5,183.3 432.7,180.2 431.8,178.2 428.2,162.6 427.6,161.3 425.5,165.4 424,169.1 422.7,170.5 416.4,159.5 413.6,156.3 410.9,156.1 408.2,158.7 405.5,152.6 402.7,145.6 400,143.6 398.2,139.6 397.3,138.1 396.4,137.5 394.5,135.5 392.7,134.3 390,131.8 388.2,132.3 386.4,134.1 385.5,133.3 383.6,129.9 381.8,122.1 380,120.3 378.2,125 377.3,128 375.5,132.1 374.5,132 372.7,131.1 370.9,130.9 370,130.2 367.3,123.6 364.5,125.8 361.8,120.5 359.1,118.4 356.4,117.3 355.5,117.6 353.6,118.7 350.9,118.4 348.2,120.9 344.5,118.9 340,112.8 339.1,112.5 337.7,112.8 336.4,114 335.6,115.9 334.5,120.3 334.2,122.1 332.9,137.5 332.7,137.6 330.6,128.9 330,127.9 328.5,127.1 326.4,127.7 323.5,126.6 321.1,127 319.9,122.8 317.8,102.5 317.3,102.4 316.4,105.1 315,102.2 314.5,103.9 312.1,116.9 309.1,127 307.3,136.5 305.6,142.8 304.5,145.3 304,147 301.8,157 300.9,159.6 300,160.5 298.5,161.1 297,162.3 296.6,161.8 296.1,162.3 293.5,167.2 292.2,162 289.4,147.2 288.2,143.4 286.6,141.6 285.5,141.9 284.2,143 282.3,143.9 281.1,144.1 278.7,145.8 276.3,145.3 273.6,142.7 273.2,142.6 270,145.3 268,146.5 267.2,146.7 264.6,145.1 264.1,145.5 262.2,148.5 259.8,151.3 258.5,151.1 257.4,151.6 256.1,150.8 255.1,148.3 254.6,149.4 252.7,158 250.3,166.5 249.8,167.5 248.7,168.3 247.4,167.9 246.4,167.2 245,165.6 242.7,157.5 242.4,157 240.3,157 239.2,156.7 237.7,157 236.1,159.5 235.5,160 234.5,161.5 231.8,175.4 230,178.9 228,180.2 226.4,182.1 225.5,181.9 224.4,181.4 222.7,183.3 221.8,183 220.9,183.1 220,184.5 219,187.4 214,197.2 212.7,201.5 211.4,204.1 210,206.4 209,211.7 207.8,225.8 207.3,229.1 205.4,237 204.3,237.4 202.7,238.8 199.1,238.6 196.4,239.2 195.5,239.2 192.7,236.6 189,231.7 185,233.6 181.8,234.8 179.1,237.7 177.5,232.3 176.5,239.9 174.5,243.6 174,242.9 172.5,236.4 171.8,235.4 170,235 169.1,235.7 167.5,239.6 166.4,245.7 165.7,244.7 164.5,244.5 163.6,242 162.5,232.7 161.8,230.1 160.5,237.7 159.1,242.6 158.5,240.2 157.4,233.7 156.9,229.2 156.6,228.4 155.8,234.6 154.5,240.8 153.6,243.4 152.5,245 152,246.2 149.5,249.1 145.9,251.1 144.1,251.9 140.5,252.8 138.6,253.5 135,254.1 133.2,256.2 127.7,256.4 124,257.1 122.3,257.8 118.6,255.3 116.8,254.6 113.2,253.8 111.4,254.1 106.8,250.4 106,248.9 102.4,244 101.6,242.4 97.7,233.5 95.3,226.2 92.9,221 91.4,221.8 89,220.5 85.8,216 83.4,210.7 81.1,211.3 79.5,207.3 77.9,207.5 75.5,195.3 71.8,188.1 63.9,174.2 58.5,159.7Z"/>
<path fill="#0082F8" d="M58.5,145.6 59.2,146.3 60,147.9 63.9,158.6 64.3,159.3 65.5,159.8 69.8,166.5 71.8,170.2 75.5,178 76.8,185.4 77.9,189.9 79.5,189.4 81.1,193.2 83.4,192.8 85.8,197.8 89,202.3 91.4,203.8 92.3,203.4 92.9,203.4 95.3,208.2 97.7,214.4 102.4,224.2 106.8,229.9 110,232.4 111.4,233.7 113.2,234.7 116.8,235.1 118.6,235.6 124,235.4 127.7,233.9 133.2,233.4 135,234.4 140.5,231.3 149.5,223.9 152,221.6 153.6,218.8 156.1,208.3 156.9,203.9 157.3,204.1 158.7,213.9 159.1,215 160.5,209.2 161.8,201.5 162.2,202.7 163.6,216.1 165.7,217 166.4,216.2 168.3,210.3 169.1,208.7 170.9,207.7 171.8,207.6 172.6,208.4 174.4,213.8 176.1,206.7 177.3,203 178.7,210.7 179.1,211.8 180.5,209.7 182.2,204.8 184.8,202.6 186.6,196.9 189.1,193.9 191.8,196.8 194.4,201.9 195.5,202.7 199.1,201.9 200,202.1 202.7,202 204.5,200.5 205.5,198.9 207.3,194.4 208.2,190.2 210,172.5 215,163.6 216.4,160.9 220,152.1 220.9,151.2 221.8,150.8 223.6,150.8 226.4,153.8 229.1,154.2 230.9,153.1 231.8,149.6 232.5,145.3 233.6,135.4 234.5,130.8 237.7,125.6 239.2,124.9 242.4,125.4 242.7,125.8 244.5,133.7 244.8,134.3 246.4,135.8 247.3,136.3 248.7,135.3 250.3,132.5 255.1,115.5 255.5,115.7 257.4,120.8 258.2,122.2 259.8,124.6 260.9,124.8 262.2,123.1 263.6,120.7 264.6,119.9 266.4,120.8 268,120.3 270,119.2 273.2,116.7 274.5,116.9 276.3,118.5 278.2,119.5 278.7,119.4 281.1,117 284.2,115.6 285.5,114.6 286.6,114.5 287.4,115.5 288.2,117.6 290.6,128.4 292.2,137.5 293.5,139.1 295.3,136.1 296.1,133.3 297.7,128.9 298.5,128.2 300.9,126.7 301.6,125.1 304,115.9 305.6,111.1 309.1,93.7 310.3,89.2 312.1,84 313.5,76.8 315,70.3 316.4,72 316.9,70.3 317.8,69.6 319.9,89.4 320.5,92.4 321.1,94.1 323.5,93.7 324.5,93.8 326.4,94.5 328.5,94.1 330.6,95.2 331.8,98.6 332.9,106.7 333.6,104.8 334.2,96.2 335.5,84.1 337.7,80.6 338.2,80.2 340,79.8 340.9,80.4 343.6,84.9 345.5,86.4 348.2,88.1 350.9,85.3 353.6,86.9 356.4,84.4 359.1,85.5 360.9,85.3 361.8,86.6 363.6,91.5 364.5,92.4 367.3,90.8 370,97.7 372.7,98.3 375.5,99.7 377.3,96.7 380,87.6 381.8,89.1 383.6,99.2 385.5,101.9 386.4,102.8 387.3,102.1 388.2,100.1 389.1,99.6 391.8,102 394.5,106.9 400,117.8 402.7,119.2 405.5,128.1 407.3,132.4 408.2,133.3 410.9,131.1 413.6,132.9 416.4,136.8 419.1,142.5 421.8,147.3 422.7,148.4 424.5,145.9 427.3,138.6 427.6,138.5 429.1,144 431.8,157 434.5,159.7 436.4,159.9 438.2,161.5 442,168.7 444.5,172.7 445.7,173.4 447.8,173.6 448.2,173.9 450.7,178.7 452.8,184.6 453.6,185.7 458.5,183.6 459.1,183.7 460,184.7 460.9,184.8 462.7,180.7 466.4,176.6 469.1,170.2 471.8,164.8 473.6,162.5 474.2,162.7 477,165 480.6,170.1 483.6,173.3 484.9,175 487.3,179 489.1,181.5 492.7,188.8 495.5,186.9 498.5,184 499.1,185.3 500.9,191.1 503.6,196.7 504.5,197.7 508.2,201.2 509.1,201.8 511.8,202.3 514.5,199.1 515.5,198.6 517.3,198.3 519.1,199.7 520,200.9 522.7,208.2 524.5,212.5 528.2,219.6 530,221 533.6,223.2 539.1,221.5 540,222.3 543.6,227.6 544.5,228.6 544.9,228.7 544.9,242.9 544.5,242.9 540.9,238.1 539.1,236.2 533.6,237.6 528.2,234 527.3,232.4 522.7,221.8 520,215.1 517.3,212.5 514.5,214 511.8,216.8 509.1,215.8 506.4,213 503.6,209.7 500.9,204.5 500,201.9 498.5,198.7 495.5,201.9 492.7,203.9 489.1,196.2 483.6,188.6 481.8,186.6 479.1,185.2 476.4,182.8 473.6,181.4 471.8,184.7 466.4,197.6 462.7,201.5 460.9,205.9 460,205.8 459.1,205.1 457.3,205.5 456.4,205.9 453.6,207.8 448.2,198.7 444.5,196.7 440.9,190.6 438.2,185.7 434.5,182.2 432.7,179.2 431.8,177.3 428.2,161.7 427.6,160.2 425.5,164.3 424,167.9 422.7,169.5 416.4,158.5 413.6,155.4 410.9,155.1 408.2,157.7 405.5,151.7 402.7,144.5 400,142.6 398.2,138.6 397.3,137 394.5,134.4 392.7,133.1 390,130.7 388.2,131 386.4,133 385.5,132.2 383.6,128.9 381.8,120.9 380,119.2 378.2,123.8 377.3,126.8 375.5,131 374.5,130.9 372.7,130 370.9,129.8 370,129.1 367.3,122.5 364.5,124.6 361.8,119.3 359.1,117.2 356.4,116.2 353.6,117.7 350.9,117.3 348.2,119.8 344.5,117.7 340,111.6 339.1,111.4 337.7,111.6 336.4,112.9 335.6,114.7 334.5,119.1 334.2,120.9 332.9,136.5 332.7,136.5 330.6,127.6 330,126.7 328.5,125.9 326.4,126.6 323.5,125.4 321.1,125.9 319.9,121.5 317.8,101.1 317.3,101.3 316.4,104.1 315,101 313.5,107.9 312.1,116 310.3,121.5 309.1,125.9 307.3,135.2 305.6,141.7 304.5,144.2 304,145.9 301.8,155.8 300.9,158.5 300,159.3 298.5,159.9 297,161.1 296.6,160.7 296.1,161.2 293.5,166.2 292.2,161.1 289.4,146.4 288.2,142.4 286.6,140.5 285.5,141 284.2,142 282.3,142.9 281.1,143.2 278.7,145 276.3,144.5 273.6,141.9 273.2,141.8 270,144.4 268,145.5 267.2,145.7 264.6,144.2 264.1,144.6 262.2,147.7 259.8,150.5 258.5,150.2 257.4,150.5 256.1,149.6 255.1,147.1 254.6,148.2 252.7,156.9 250.3,165.4 249.8,166.4 248.7,167.2 247.4,166.8 246.4,166.1 245,164.4 242.7,156.5 242.4,155.9 240.3,155.9 239.2,155.5 237.7,155.9 236.1,158.6 235.5,159 234.5,160.5 232.9,169.6 231.8,174.6 230,178 228,179.3 226.4,181 225.5,180.9 224.4,180.4 222.7,182.1 221.8,181.8 220.9,181.9 220,183.3 219,186.2 215,193.8 214,196 212.7,200.4 211.4,203.1 210,205.4 209,210.9 207.8,224.7 207.3,228.1 205.4,236 204.3,236.4 202.7,237.9 199.1,237.6 196.4,238.2 195.5,238.2 192.7,235.5 189,230.6 185,232.7 181.8,234 179.1,237 177.5,231.3 177.3,231.8 176.5,238.5 174.5,242.3 174,241.6 172.5,235.3 171.8,234.3 170,234 169.1,234.6 167.5,238.6 166.4,244.4 165.7,243.5 164.5,243.2 163.6,241 162.5,231.6 161.8,228.6 160.5,236.1 159.1,241.2 158.5,238.8 157.4,232.2 156.9,227.9 156.6,227.3 155.8,233.3 154.5,239.4 153.6,242.2 152.5,243.8 152,245 149.5,247.8 145.9,249.9 144.1,250.7 140.5,251.7 138.6,252.5 135,253.1 133.2,255 127.7,255.1 124,255.8 122.3,256.5 118.6,254.2 116.8,253.6 113.2,252.9 111.4,253.1 106.8,249.5 106,248 102.4,242.9 101.6,241.2 97.7,232.2 95.3,225 92.9,219.8 91.4,220.8 89,219.4 85.8,214.8 83.4,209.4 81.1,210.1 79.5,206 77.9,206.3 75.5,193.9 71.8,186.7 63.9,173.2 59.2,160.3 58.5,158.8Z"/>
<path fill="#0078F4" d="M58.5,146.5 59.2,147.3 60,148.9 63.9,159.6 64.3,160.3 65.5,160.9 69.8,167.5 71.8,171.1 74.2,176.4 75.5,178.8 76.8,186.2 77.9,190.9 79.5,190.2 81.1,194.2 83.4,193.6 85.8,198.7 89,203.3 91.4,204.8 92.3,204.3 92.9,204.2 95.3,209 97.7,215.2 102.4,225 106.8,230.7 110,233.1 111.4,234.5 113.2,235.4 116.8,236 118.6,236.5 122.3,236.6 124,236.5 127.7,235 133.2,234.4 135,235.2 140.5,232.2 149.5,225 152,222.6 153.6,219.7 156.1,209.2 156.9,204.8 157.3,205.2 158.7,214.8 159.1,216 160.5,210.1 161.8,202.4 162.2,203.7 163.6,217.2 165.7,218 166.4,217.3 168.3,211.4 169.1,209.7 170.9,208.7 171.8,208.5 172.6,209.4 174.4,214.5 174.5,214.4 176.1,207.5 177.3,203.7 178.7,211.4 179.1,212.5 180.5,210.3 182.2,205.5 184.8,203.2 186.6,197.6 189.1,194.6 191.8,197.6 194.4,202.6 195.5,203.5 199.1,202.6 200,202.8 202.7,202.8 204.5,201.2 205.5,199.6 207.3,195.1 208.2,190.8 210,173.3 215,164.5 216.4,161.8 220,153 220.9,152.1 221.8,151.7 223.6,151.7 225.5,153.8 226.4,154.5 229.1,154.9 230.9,153.8 231.8,150.5 232.5,146.2 233.6,136.4 234.5,131.7 237.7,126.5 239.2,125.8 242.4,126.3 242.7,126.8 244.5,134.5 244.8,135.1 246.4,136.6 247.3,137.1 248.7,136.2 250.3,133.5 255.1,116.3 255.5,116.6 257.4,121.7 258.2,123.1 259.8,125.4 260.9,125.6 262.2,123.8 263.6,121.4 264.6,120.6 266.4,121.4 268,121 270,119.9 273.2,117.5 274.5,117.7 276.3,119.3 278.2,120.2 278.7,120.2 281.1,117.7 284.2,116.3 285.5,115.3 286.6,115.2 287.4,116.2 288.2,118.2 290.6,129.1 292.2,138.1 293.5,139.9 295.3,136.7 296.1,134 297.7,129.8 298.5,129 300.9,127.6 301.6,125.9 304,116.7 305.6,111.9 309.1,94.6 310.3,90.2 312.1,85 313.5,77.7 315,71.1 316.4,73 316.9,71.2 317.8,70.3 319.9,90.2 320.5,93.2 321.1,95 323.5,94.6 326.4,95.3 328.5,94.9 330.6,96 331.8,99.6 332.9,107.5 333.6,105.3 334.2,96.6 335.5,84.9 337.7,81.4 338.2,81 340,80.6 340.9,81.3 343.6,85.7 345.5,87.2 348.2,89 350.9,86.2 353.6,87.7 356.4,85.3 359.1,86.4 360.9,86.2 361.8,87.5 363.6,92.3 364.5,93.3 367.3,91.7 370,98.6 372.7,99.2 375.5,100.6 377.3,97.4 378.2,94 380,88.4 381.8,90 383.6,100.1 385.5,102.7 386.4,103.6 387.3,103 388.2,100.9 389.1,100.5 391.8,102.9 394.5,107.7 400,118.6 402.7,120 405.5,128.9 407.3,133.2 408.2,134.1 410.9,131.9 413.6,133.7 416.4,137.6 419.1,143.3 421.8,148.1 422.7,149.2 424.5,146.6 427.3,139.4 427.6,139.3 429.1,144.9 431.8,157.9 434.5,160.7 436.4,160.9 438.2,162.5 440.9,167.8 444.5,173.8 445.7,174.5 447.8,174.8 448.2,175.1 450.7,179.9 452.8,185.7 453.6,186.9 456.4,185.5 458.5,184.7 459.1,184.8 460,185.8 460.9,186 462.7,181.9 466.4,177.9 469.1,171.4 471.8,166 473.6,163.7 474.2,163.9 477,166.2 480.6,171.1 483.6,174.3 484.9,176.1 487.3,180 489.1,182.4 492.7,189.7 495.5,187.9 498.5,184.9 499.1,186.3 500.9,192.1 503.6,197.6 508.2,202.1 509.1,202.8 511.8,203.3 514.5,200.1 515.5,199.6 517.3,199.2 519.1,200.7 520,201.8 522.7,209.1 524.5,213.3 528.2,220.5 533.6,224.1 539.1,222.4 540,223.3 543.6,228.5 544.5,229.6 544.9,229.6 544.9,242 544.5,242 540.9,237.2 539.1,235.2 533.6,236.7 528.2,233.1 527.3,231.4 522.7,221 520,214.1 517.3,211.6 514.5,213.1 511.8,216 509.1,215 506.4,212.2 503.6,209 500.9,203.7 500,201.1 498.5,197.7 495.5,201 492.7,202.9 489.1,195.3 483.6,187.6 481.8,185.7 479.1,184.1 476.4,181.7 473.6,180.2 471.8,183.5 466.4,196.6 462.7,200.5 460.9,205 460,204.7 459.1,204 456.4,204.9 453.6,206.8 448.2,197.6 444.5,195.7 440.9,189.7 438.2,184.6 434.5,181.4 432.7,178.4 431.8,176.6 428.2,160.9 427.6,159.3 425.5,163.4 424,167 422.7,168.7 416.4,157.8 413.6,154.7 410.9,154.3 408.2,156.9 405.5,151 402.7,143.6 400,141.9 398.2,137.8 397.3,136.2 394.5,133.5 392.7,132.2 390,129.8 388.2,130 386.4,132.1 385.5,131.3 383.6,128.1 381.8,120 380,118.3 378.2,122.8 377.3,125.8 375.5,130.2 374.5,130 372.7,129.1 370.9,128.9 370,128.3 367.3,121.6 364.5,123.7 361.8,118.3 359.1,116.4 356.4,115.3 353.6,116.8 350.9,116.4 348.2,118.9 344.5,116.8 342.7,114.5 340,110.7 339.1,110.5 337.7,110.8 336.4,112 335.6,113.8 334.5,118.2 334.2,119.9 332.9,135.7 332.7,135.7 330.6,126.7 330,125.8 328.5,125 326.4,125.7 323.5,124.6 321.1,125 319.9,120.6 317.8,100.1 317.3,100.4 316.4,103.4 315,100.1 313.5,107.1 312.1,115.3 310.3,120.7 309.1,125 307.3,134.3 305.6,140.9 304.5,143.3 304,145 301.8,154.9 300.9,157.6 300,158.4 298.5,159 297,160.2 296.6,159.9 296.1,160.4 293.5,165.5 292.2,160.4 289.4,145.8 288.2,141.7 286.6,139.7 285.5,140.2 284.2,141.3 282.3,142.2 281.1,142.5 278.7,144.3 276.3,143.8 273.6,141.2 273.2,141.1 270,143.7 268,144.7 267.2,144.9 264.6,143.4 264.1,143.9 262.2,147 259.8,149.9 258.5,149.5 257.4,149.7 256.1,148.6 255.1,146.1 254.6,147.3 252.7,156.1 250.3,164.6 249.8,165.5 248.7,166.3 247.4,165.9 246.4,165.2 245,163.5 242.7,155.6 242.4,155.1 240.3,155 239.2,154.7 237.7,155.1 236.1,157.8 235.5,158.2 234.5,159.7 232.9,169 231.8,174.1 230,177.3 228,178.5 226.4,180.2 225.5,180.1 224.4,179.6 222.7,181.1 221.8,180.8 220.9,181 220,182.3 219,185.2 215,192.9 214,195.1 212.7,199.5 210,204.6 209,210.2 207.8,223.9 207.3,227.3 205.4,235.1 204.3,235.6 202.7,237.2 199.1,236.8 196.4,237.4 195.5,237.5 192.7,234.7 189,229.8 185,232 181.8,233.3 179.1,236.5 177.5,230.6 177.3,230.9 176.5,237.3 174.5,241.3 174,240.6 172.5,234.5 171.8,233.4 170,233.2 169.1,233.7 167.5,237.8 166.4,243.4 165.7,242.5 164.5,242.3 163.6,240.2 162.5,230.7 161.8,227.5 160.5,234.9 159.1,240.2 158.5,237.7 157.4,231.1 156.9,226.9 156.6,226.4 155.8,232.2 154.5,238.2 153.6,241.2 152.5,242.9 152,244.1 149.5,246.8 145.9,248.9 144.1,249.8 140.5,250.8 138.6,251.6 135,252.3 133.2,254 127.7,254.1 124,254.8 122.3,255.5 118.6,253.4 116.8,252.8 113.2,252.1 111.4,252.4 106.8,248.7 106,247.2 102.4,242 101.6,240.3 97.7,231.3 95.3,224.1 92.9,218.9 91.4,220 89,218.5 85.8,213.9 83.4,208.3 81.1,209.2 79.5,205 77.9,205.5 75.5,192.8 71.8,185.6 63.9,172.4 59.2,159.5 58.5,158.1Z"/>
<path fill="#0866E2" d="M58.5,147.5 59.2,148.3 60,150 63.9,160.6 64.3,161.3 65.5,162 69.8,168.4 71.8,172 74.2,177.2 75.5,179.5 76.8,187 77.9,191.9 79.5,191.1 81.1,195.2 83.4,194.4 85.8,199.7 89,204.2 91.4,205.7 92.3,205.2 92.9,205.1 95.3,209.8 97.7,216 102.4,225.8 106.8,231.5 110,233.9 111.4,235.2 113.2,236.2 116.8,236.8 118.6,237.4 122.3,237.7 124,237.6 127.7,236.1 133.2,235.5 135,236.1 140.5,233 149.5,226 152,223.6 153.6,220.6 156.1,210 156.9,205.7 157.3,206.3 158.7,215.7 159.1,217 160.5,210.9 161.8,203.3 162.2,204.8 163.6,218.2 165.7,219 166.4,218.3 168.3,212.4 169.1,210.6 170.9,209.6 171.8,209.4 172.6,210.3 174.4,215.3 174.5,215.2 176.1,208.3 177.3,204.4 178.7,212.1 179.1,213.3 180.5,211 182.2,206.2 184.8,203.7 186.6,198.3 189.1,195.4 191.8,198.3 194.4,203.3 195.5,204.2 199.1,203.3 200,203.5 202.7,203.5 204.5,201.9 205.5,200.4 207.3,195.9 208.2,191.4 210,174.1 215,165.4 217.3,160.6 220,153.9 220.9,153 221.8,152.6 223.6,152.6 225.5,154.6 226.4,155.3 229.1,155.6 230.9,154.5 231.8,151.3 232.5,147 233.6,137.4 234.5,132.7 237.7,127.4 239.2,126.7 242.4,127.2 242.7,127.7 244.5,135.3 244.8,135.9 246.4,137.5 247.3,138 248.7,137.2 250.3,134.6 255.1,117.1 255.5,117.5 257.4,122.6 258.2,123.9 259.8,126.2 260.9,126.3 262.2,124.5 263.6,122.1 264.6,121.2 266.4,122 268,121.6 270,120.6 273.2,118.2 274.5,118.5 276.3,120.1 278.2,121 278.7,121 281.1,118.4 284.2,117 285.5,116.1 286.6,115.8 287.4,116.8 288.2,118.9 290.6,129.8 292.2,138.7 293.5,140.6 295.3,137.4 296.1,134.7 297.7,130.6 298.5,129.9 300.9,128.5 301.6,126.7 304,117.5 305.6,112.7 309.1,95.5 310.3,91.1 312.1,86 313.5,78.6 315,71.9 316.4,73.9 316.9,72.1 317.8,71 319.9,91 320.5,94 321.1,95.9 323.5,95.5 326.4,96.2 328.5,95.8 330.6,96.9 331.8,100.5 332.9,108.4 333.6,105.7 334.2,97.1 335.5,85.7 337.7,82.3 338.2,81.9 340,81.5 340.9,82.1 343.6,86.5 345.5,88.1 348.2,89.8 350.9,87.1 353.6,88.6 356.4,86.1 359.1,87.3 360.9,87.1 361.8,88.3 363.6,93.1 364.5,94.2 367.3,92.5 370,99.5 372.7,100 375.5,101.5 377.3,98.1 378.2,94.7 380,89.3 381.8,90.9 383.6,101 385.5,103.6 386.4,104.5 387.3,103.8 388.2,101.7 389.1,101.4 391.8,103.8 394.5,108.5 400,119.4 402.7,120.8 405.5,129.7 407.3,134 408.2,135 410.9,132.8 413.6,134.6 416.4,138.4 419.1,144 421.8,148.8 422.7,150 424.5,147.3 427.3,140.3 427.6,140.2 429.1,145.8 431.8,158.8 434.5,161.7 436.4,162 438.2,163.5 440.9,168.8 444.5,174.9 445.7,175.6 447.8,176 448.2,176.2 450.7,181.1 452.8,186.8 453.6,188 456.4,186.6 458.5,185.9 459.1,185.9 460,186.9 460.9,187.2 462.7,183.1 466.4,179.2 469.1,172.6 471.8,167.1 473.6,164.8 474.2,165.1 477,167.4 480.6,172.2 483.6,175.4 484.9,177.1 487.3,180.9 489.1,183.4 492.7,190.7 495.5,188.9 498.5,185.8 500.9,193 503.6,198.6 508.2,203.1 509.1,203.8 511.8,204.4 514.5,201.1 515.5,200.6 517.3,200.2 519.1,201.6 520,202.7 522.7,210 524.5,214.2 528.2,221.5 533.6,225.1 539.1,223.3 540,224.2 543.6,229.4 544.5,230.5 544.9,230.6 544.9,241.3 544.5,241.2 540.9,236.4 539.1,234.4 533.6,235.9 528.2,232.3 522.7,220.2 520,213.3 517.3,210.9 514.5,212.3 511.8,215.3 509.1,214.3 503.6,208.4 500.9,203.1 498.5,196.9 495.5,200.2 492.7,202 489.1,194.5 483.6,186.8 481.8,184.9 479.1,183.2 476.4,180.7 473.6,179.3 471.8,182.6 466.4,195.7 462.7,199.6 460.9,204.1 460,203.8 459.1,203.1 456.4,204 453.6,205.9 448.2,196.6 444.5,194.9 440.9,188.8 438.2,183.8 434.5,180.7 432.7,177.8 431.8,176 428.2,160.3 427.6,158.6 425.5,162.6 424,166.3 422.7,168.1 416.4,157.2 413.6,154 410.9,153.6 408.2,156.3 405.5,150.4 402.7,142.9 400,141.2 398.2,137.1 397.3,135.4 394.5,132.7 392.7,131.5 390,129.1 388.2,129.1 386.4,131.4 385.5,130.6 383.6,127.5 381.8,119.3 380,117.5 378.2,122 377.3,125 375.5,129.4 374.5,129.2 372.7,128.3 370.9,128.2 370,127.6 367.3,120.9 364.5,123 361.8,117.5 359.1,115.6 356.4,114.6 353.6,116.1 350.9,115.6 348.2,118.2 344.5,116 342.7,113.8 340,109.9 339.1,109.7 337.7,110 336.4,111.3 335.6,113 334.5,117.4 334.2,119.1 332.9,135 332.7,134.9 330.6,125.8 330,125 328.5,124.2 326.4,124.9 323.5,123.8 321.1,124.3 319.9,119.7 317.8,99.2 317.3,99.6 316.4,102.7 315,99.4 313.5,106.4 312.1,114.7 310.3,120 309.1,124.3 307.3,133.4 305.6,140.1 304.5,142.6 304,144.2 301.8,154.1 300.9,156.9 300,157.7 298.5,158.2 297,159.5 296.6,159.2 296.1,159.7 293.5,164.8 292.2,159.8 289.4,145.2 288.2,141 286.6,139.1 285.5,139.6 284.2,140.6 282.3,141.6 281.1,141.8 278.7,143.8 276.3,143.2 273.6,140.6 273.2,140.5 270,143.1 268,144.1 267.2,144.2 264.6,142.8 264.1,143.3 262.2,146.4 259.8,149.3 258.5,148.8 257.4,149.1 256.1,147.8 255.1,145.2 254.6,146.6 252.7,155.3 250.3,163.9 249.8,164.7 248.7,165.6 247.4,165.1 246.4,164.4 245,162.7 242.4,154.4 240.3,154.2 239.2,153.9 237.7,154.3 236.1,157.1 235.5,157.6 234.5,159.1 232.9,168.4 231.8,173.6 230,176.6 228,177.9 226.4,179.5 225.5,179.4 224.4,178.9 222.7,180.3 221.8,180 220.9,180.2 220,181.5 219,184.3 214,194.3 212.7,198.8 210,203.9 209,209.7 207.8,223.1 207.3,226.6 205.4,234.5 204.3,235 202.7,236.5 199.1,236.1 196.4,236.8 195.5,236.9 192.7,234 189,229.1 185,231.4 181.8,232.8 179.1,236.1 177.5,229.9 177.3,230.2 176.5,236.3 174.5,240.4 174,239.7 172.5,233.8 171.8,232.7 170,232.5 169.1,233 167.5,237.1 166.4,242.6 165.7,241.7 164.5,241.4 163.6,239.5 162.5,229.9 161.8,226.5 160.5,233.9 159.1,239.3 157.4,230.2 156.9,226.1 156.6,225.7 155.8,231.3 154.5,237.3 153.6,240.3 152,243.3 149.5,246 145.9,248.1 144.1,249 140.5,250.1 138.6,250.9 135,251.6 133.2,253.2 127.7,253.2 124,253.9 122.3,254.6 118.6,252.7 116.8,252.1 113.2,251.5 111.4,251.7 110,250.8 106.8,248 106,246.6 102.4,241.3 97.7,230.4 95.3,223.3 92.9,218.2 91.4,219.2 89,217.8 85.8,213.2 83.4,207.5 81.1,208.4 79.5,204.2 77.9,204.7 75.5,191.8 74.2,189.6 71.8,184.7 63.9,171.7 59.2,158.8 58.5,157.4Z"/>
<polyline fill="none" stroke="#555555" stroke-width="1.35" stroke-linejoin="round" points="58.5,153.5 59.2,154.5 61.5,160.8 63.9,167.2 65.5,169.5 68.7,173.5 71.8,178.2 74.2,183 75.5,185 77.1,194.5 77.9,199.2 79.5,197.7 81.1,202.4 83.4,200.8 85.8,207.2 89,211.9 91.4,213.5 92.9,211.9 95.3,216.6 97.7,223 100.1,228.5 102.4,234 104.1,236.4 106.8,240.7 111.4,244.4 116.8,245.3 122.3,247.1 127.7,245.6 133.2,245.3 138.6,243.5 144.1,240.7 149.5,237.1 152,234.5 153.6,230.9 156.4,218.2 156.9,216.4 159.1,229 161.8,214.5 163.6,231 166.4,231.8 169.1,223.6 171.8,222.7 174.5,227.3 177.3,217.3 179.1,228.2 181.8,221.8 185.5,217.3 189.1,213.6 192.7,218.2 195.5,222.7 199.1,220.9 202.7,222.7 205.5,219.1 207.3,212.7 209.1,198.2 210,190.9 212.7,186.4 214,181.5 217.3,175.5 220,168.2 221.8,167.3 225.5,168.2 229.1,167.3 231.8,165.5 232.9,160 234.5,148.2 236.1,146.6 237.7,142.7 239.2,141.9 242.4,142.7 244.8,149.8 246.4,152.2 248.7,153.8 250.3,152.2 252.7,143.5 255.1,131.6 257.4,137.9 259.8,140.3 262.2,137.2 264.6,132.4 268,133.5 270,133.2 273.2,130.9 276.3,134 278.7,134.8 281.1,131.6 284.2,130.1 286.6,127.7 288.2,130.1 289.8,138 292.2,150 293.5,154 296.1,147.5 298.5,145.1 300.9,144.3 302.4,138.8 304,131.6 305.6,127.7 308,115.8 310.3,107.9 312.1,104.2 313.5,94.9 315,86.4 316.4,91.4 317.8,84.2 318.9,94.2 319.9,105.6 321.1,112 323.5,111.3 326.4,112 328.5,110.6 330.6,112 332.9,123.5 334.2,105.6 335.6,99.9 337.7,97.1 340,96.8 342.7,100.9 345.5,103.6 348.2,105.5 350.9,102.7 353.6,104 356.4,101.8 359,103 361.8,103.6 364.5,110 367.3,108.2 370,115.5 372.7,115.5 375.5,117.3 378.2,108.2 380,104.5 381.8,106.4 383.6,117 386.4,119.5 388.2,115.5 390.9,118.2 394.5,120.9 397.3,124.5 400,131.8 402.7,132.7 405.5,141.8 408.2,147.3 410.9,144.5 413.6,146 416.4,149.1 419.1,153.6 422.7,160 425.5,153.6 427.6,150 430,160.9 431.8,169.1 434.5,172.7 438.2,174.5 440.9,180 444.5,186.4 448.2,187.3 451.8,194.5 453.6,198.2 456.4,196.4 459.1,195.5 460.9,197.3 462.7,192.7 466.4,189.1 469.1,181.8 471.8,175.5 473.6,172.7 476.4,174.5 479.1,177.3 483.6,181.8 486.4,185.5 489.1,189.5 490.5,192.7 492.7,196.5 495.5,195 498.5,191.5 500.9,199.1 503.6,204.5 506.4,207.3 509.1,210 511.8,210.9 514.5,207.3 517.3,206 520,208.2 522.7,215.5 525.5,221.8 528.2,227.3 530.9,229.1 533.6,230.9 536.4,230 539.1,229.1 541.8,232.7 544.5,236.4"/>
<polyline fill="none" stroke="#ff0000" stroke-width="1.75" stroke-dasharray="5 4.5" points="58.4,153.5 63.1,154.2 64.5,163.5 67.8,169.2 73,177.8 76.3,186.6 77,188 80.3,197 84.7,201.6 88.6,211.3 94.5,217.5 99.8,226.5 104.4,234.5 109.5,243.5 115,246.2 120.5,248 125.9,247.1 130.5,248 135,246.2 139.5,244.4 144.1,241.6 148.6,239.8 151.8,235.5 157.3,231.8 163.6,229.1 168.2,231.8 172.7,228.2 179.1,229.1 184.5,228.2 189.1,226.4 193.6,222.7 199.1,220.9 203.6,223.6 208.2,221.8 211.8,214.5 215.5,205.5 218.2,200 220.9,190.9 222.7,183.6 226.4,172.7 231.8,169.1 235.5,166.4 238.4,162.5 240.8,151.4 242.4,145 244.8,141.9 249.5,140.3 251.1,144.3 253.5,152 255,152.5 259,146.6 261.4,136.4 263,132.4 266.9,135.6 269.3,134.8 272.5,129.2 275.5,131.6 278.7,134 281.5,130 284.2,125.3 286.6,128.5 292.2,129.3 296.9,134 300.9,141.9 303.2,134.8 305.6,123.7 308,117.4 310.3,109.5 314.2,104.9 316.4,103.5 320.7,104.2 322.8,105.6 326.4,99.9 328.5,102 330.6,109.9 334.2,112 336.3,108.5 342.7,103.6 348.2,100 352.7,108.2 358.2,98.2 363.6,99.1 367.3,108.2 370.9,117.3 374.5,122.7 379.1,121.8 384.5,117.3 387.3,120 390.9,121.8 396.4,123.6 399.5,125.5 403.3,115.5 406,123 409,131 412,138 415,146 418,152 421,157 424,162.5 427,167 430,171.5 433,169 435.5,165.5 438.5,163 440.5,166 442.2,173.3 444.4,178.2 446,184 449.8,187.4 450.9,193 454.2,195.6 456,190 457.4,187 460.7,190.2 465,188 467.8,190.2 469.4,181.5 473.3,178.2 476.5,179.3 479.8,176 483,177 485.8,182.5 488,188 491.8,185.8 494.5,184.2 496.7,189.6 497.3,190.9 500,196.4 502.7,200.9 507.3,205.5 511.8,210 514.5,206.4 518,206 521.8,210 524.5,218.2 527.3,222.7 531.8,227.3 535.5,230 540,232.7 543.6,232.7"/>
</g>
<g stroke="#6a6a6a" stroke-width="1.3" fill="none">
<line x1="58.7" y1="28.5" x2="58.7" y2="268.9"/>
<line x1="55" y1="268.9" x2="545.2" y2="268.9"/>
<line x1="55" y1="268.9" x2="58.7" y2="268.9"/>
<line x1="55" y1="244.9" x2="58.7" y2="244.9"/>
<line x1="55" y1="220.9" x2="58.7" y2="220.9"/>
<line x1="55" y1="196.9" x2="58.7" y2="196.9"/>
<line x1="55" y1="172.9" x2="58.7" y2="172.9"/>
<line x1="55" y1="148.9" x2="58.7" y2="148.9"/>
<line x1="55" y1="124.9" x2="58.7" y2="124.9"/>
<line x1="55" y1="100.9" x2="58.7" y2="100.9"/>
<line x1="55" y1="76.9" x2="58.7" y2="76.9"/>
<line x1="55" y1="52.9" x2="58.7" y2="52.9"/>
<line x1="55" y1="28.9" x2="58.7" y2="28.9"/>
<line x1="58.5" y1="268.9" x2="58.5" y2="272.6"/>
<line x1="92.4" y1="268.9" x2="92.4" y2="272.6"/>
<line x1="126.3" y1="268.9" x2="126.3" y2="272.6"/>
<line x1="160.2" y1="268.9" x2="160.2" y2="272.6"/>
<line x1="194.1" y1="268.9" x2="194.1" y2="272.6"/>
<line x1="228" y1="268.9" x2="228" y2="272.6"/>
<line x1="261.9" y1="268.9" x2="261.9" y2="272.6"/>
<line x1="295.7" y1="268.9" x2="295.7" y2="272.6"/>
<line x1="329.6" y1="268.9" x2="329.6" y2="272.6"/>
<line x1="363.5" y1="268.9" x2="363.5" y2="272.6"/>
<line x1="397.4" y1="268.9" x2="397.4" y2="272.6"/>
<line x1="431.3" y1="268.9" x2="431.3" y2="272.6"/>
<line x1="465.2" y1="268.9" x2="465.2" y2="272.6"/>
<line x1="499.1" y1="268.9" x2="499.1" y2="272.6"/>
<line x1="533" y1="268.9" x2="533" y2="272.6"/>
</g>
<g class="tk" font-size="14">
<text x="47.3" y="273.7" text-anchor="end">0</text>
<text x="47.3" y="249.7" text-anchor="end">20</text>
<text x="47.3" y="225.7" text-anchor="end">40</text>
<text x="47.3" y="201.7" text-anchor="end">60</text>
<text x="47.3" y="177.7" text-anchor="end">80</text>
<text x="47.3" y="153.7" text-anchor="end">100</text>
<text x="47.3" y="129.7" text-anchor="end">120</text>
<text x="47.3" y="105.7" text-anchor="end">140</text>
<text x="47.3" y="81.7" text-anchor="end">160</text>
<text x="47.3" y="57.7" text-anchor="end">180</text>
<text x="47.3" y="33.7" text-anchor="end">200</text>
<text x="58.8" y="289.4" text-anchor="middle">1</text>
<text x="92.7" y="289.4" text-anchor="middle">21</text>
<text x="126.6" y="289.4" text-anchor="middle">41</text>
<text x="160.5" y="289.4" text-anchor="middle">61</text>
<text x="194.4" y="289.4" text-anchor="middle">81</text>
<text x="228.3" y="289.4" text-anchor="middle">101</text>
<text x="262.2" y="289.4" text-anchor="middle">121</text>
<text x="296" y="289.4" text-anchor="middle">141</text>
<text x="329.9" y="289.4" text-anchor="middle">161</text>
<text x="363.8" y="289.4" text-anchor="middle">181</text>
<text x="397.7" y="289.4" text-anchor="middle">201</text>
<text x="431.6" y="289.4" text-anchor="middle">221</text>
<text x="465.5" y="289.4" text-anchor="middle">241</text>
<text x="499.4" y="289.4" text-anchor="middle">261</text>
<text x="533.3" y="289.4" text-anchor="middle">281</text>
</g>
<g font-size="11.8">
<rect x="68.7" y="5.3" width="21.3" height="5.7" fill="#75C5FB"/>
<text x="92.5" y="12.2">Confidence interval (99%)</text>
<rect x="231.5" y="5.3" width="21.3" height="5.7" fill="#4DB5F8"/>
<text x="255.6" y="12.2">Confidence interval (98%)</text>
<rect x="394.3" y="5.3" width="21.3" height="5.7" fill="#1CAAF8"/>
<text x="418.0" y="12.2">Confidence interval (95%)</text>
<rect x="68.7" y="19.8" width="21.3" height="5.7" fill="#03A0FC"/>
<text x="92.5" y="26.7">Confidence interval (90%)</text>
<rect x="231.5" y="19.8" width="21.3" height="5.7" fill="#0095F8"/>
<text x="255.6" y="26.7">Confidence interval (85%)</text>
<rect x="394.3" y="19.8" width="21.3" height="5.7" fill="#0A8CF0"/>
<text x="418.0" y="26.7">Confidence interval (80%)</text>
<rect x="68.7" y="34.3" width="21.3" height="5.7" fill="#0082F8"/>
<text x="92.5" y="41.2">Confidence interval (75%)</text>
<rect x="231.5" y="34.3" width="21.3" height="5.7" fill="#0078F4"/>
<text x="255.6" y="41.2">Confidence interval (70%)</text>
<rect x="394.3" y="34.3" width="21.3" height="5.7" fill="#0866E2"/>
<text x="418.0" y="41.2">Confidence interval (65%)</text>
<line x1="68.7" y1="51.7" x2="90" y2="51.7" stroke="#666" stroke-width="1.6"/>
<text x="92.5" y="55.7">Predict power</text>
<line x1="231" y1="51.9" x2="252.7" y2="51.9" stroke="#ff0000" stroke-width="2" stroke-dasharray="6.3 4.6"/>
<text x="255.6" y="55.7">Actual power</text>
</g>
<text class="al" font-size="15" x="279.3" y="310.5" text-anchor="middle">Sample points / 5min</text>
<text class="al" font-size="15" transform="translate(14.8,153.2) rotate(-90)" text-anchor="middle">Active power / kW</text>
</svg>
</body></html>
